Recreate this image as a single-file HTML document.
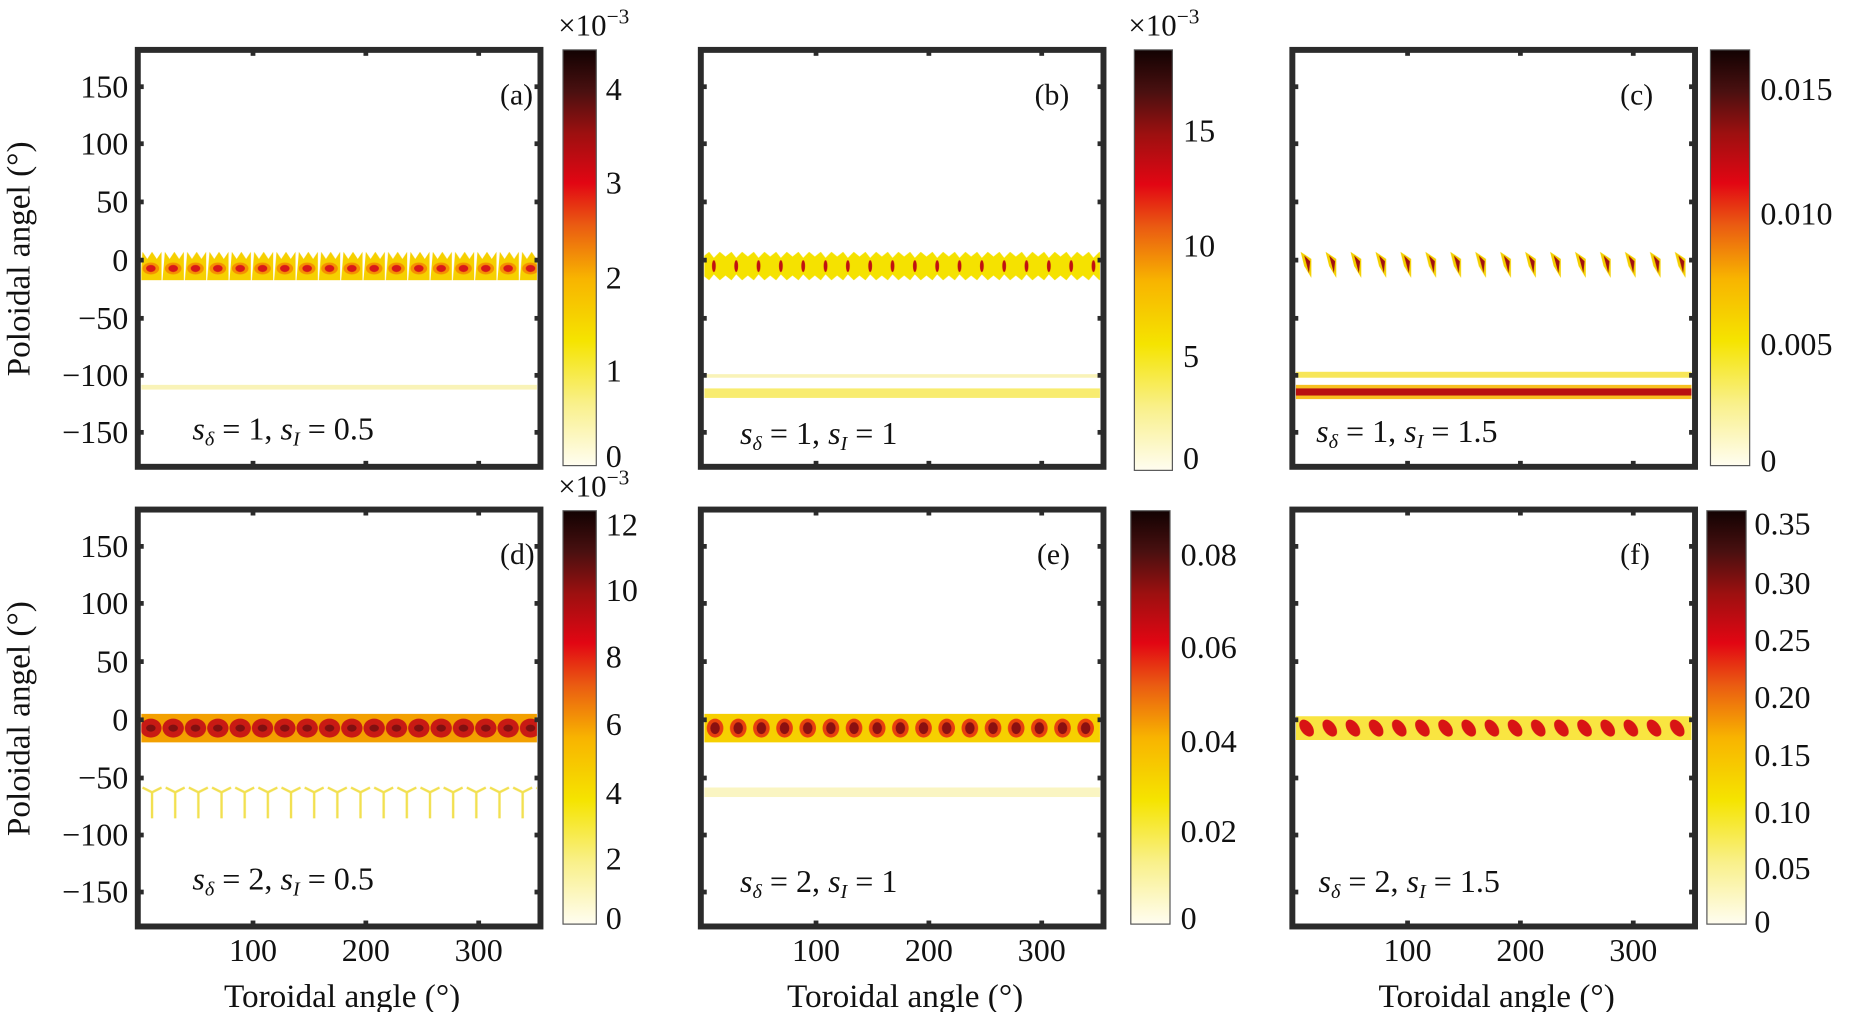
<!DOCTYPE html>
<html><head><meta charset="utf-8"><style>
html,body{margin:0;padding:0;background:#fff;}
svg{display:block;}
text{font-family:"Liberation Serif",serif;fill:#111;}
</style></head><body>
<svg width="1853" height="1012" viewBox="0 0 1560 852" preserveAspectRatio="none" xmlns="http://www.w3.org/2000/svg">
<defs>
<linearGradient id="hot" x1="0" y1="1" x2="0" y2="0">
<stop offset="0" stop-color="#fffdf0"/>
<stop offset="0.15" stop-color="#f9f08a"/>
<stop offset="0.3" stop-color="#f5e400"/>
<stop offset="0.45" stop-color="#f8b400"/>
<stop offset="0.58" stop-color="#ea5a12"/>
<stop offset="0.68" stop-color="#e20613"/>
<stop offset="0.8" stop-color="#9c1010"/>
<stop offset="0.9" stop-color="#4a1010"/>
<stop offset="1" stop-color="#120202"/>
</linearGradient>
<pattern id="pa" patternUnits="userSpaceOnUse" width="18.8" height="400" x="2" y="170">
<path d="M2 0 L6 6 L10 0 L14 6 L18 0 L18 24 L0 24 Z" fill="#f6d000"/>
<ellipse cx="9" cy="14" rx="7" ry="5" fill="#f59000"/>
<ellipse cx="9" cy="14" rx="4" ry="3" fill="#d81818"/>
</pattern>
<pattern id="pb" patternUnits="userSpaceOnUse" width="18.8" height="400" x="2" y="170">
<path d="M0 4 L5 0 L9 5 L14 0 L18.8 4 L18.8 20 L14 24 L9 19 L5 24 L0 20 Z" fill="#f5e200"/>
<ellipse cx="9" cy="12" rx="1.6" ry="5" fill="#c01010"/>
</pattern>
<pattern id="pc" patternUnits="userSpaceOnUse" width="21" height="400" x="4" y="168">
<path d="M3 2 L12 8 L12 24 L6 14 Z" fill="#f3d000"/>
<path d="M6 5 L11 10 L10 20 Z" fill="#a01010"/>
</pattern>
<pattern id="pd" patternUnits="userSpaceOnUse" width="18.8" height="400" x="2" y="170">
<ellipse cx="9" cy="14" rx="9" ry="8" fill="#c81a14"/>
<ellipse cx="9" cy="14" rx="4" ry="3" fill="#801010"/>
</pattern>
<pattern id="pe" patternUnits="userSpaceOnUse" width="19.5" height="400" x="2" y="170">
<ellipse cx="10" cy="14" rx="7" ry="8" fill="#e8400e"/>
<ellipse cx="10" cy="14" rx="4" ry="5" fill="#8a1010"/>
</pattern>
<pattern id="pf" patternUnits="userSpaceOnUse" width="19.5" height="400" x="2" y="170">
<ellipse cx="10" cy="14" rx="5" ry="8" fill="#d81414" transform="rotate(-35 10 14)"/>
</pattern>
<pattern id="pq" patternUnits="userSpaceOnUse" width="19.5" height="400" x="2" y="232">
<path d="M2 2 L10 6 L18 2 M10 6 L10 28" stroke="#f2e050" stroke-width="2" fill="none"/>
</pattern>
<g id="frame">
<rect x="0" y="0" width="339" height="351" fill="none" stroke="#2b2b2b" stroke-width="5"/>
<g stroke="#2b2b2b" stroke-width="4">
<line x1="97" y1="0" x2="97" y2="5"/><line x1="192" y1="0" x2="192" y2="5"/><line x1="287" y1="0" x2="287" y2="5"/>
<line x1="97" y1="351" x2="97" y2="346"/><line x1="192" y1="351" x2="192" y2="346"/><line x1="287" y1="351" x2="287" y2="346"/>
<line x1="0" y1="31" x2="5" y2="31"/><line x1="0" y1="79" x2="5" y2="79"/><line x1="0" y1="128" x2="5" y2="128"/><line x1="0" y1="177" x2="5" y2="177"/><line x1="0" y1="226" x2="5" y2="226"/><line x1="0" y1="274" x2="5" y2="274"/><line x1="0" y1="322" x2="5" y2="322"/>
<line x1="339" y1="31" x2="334" y2="31"/><line x1="339" y1="79" x2="334" y2="79"/><line x1="339" y1="128" x2="334" y2="128"/><line x1="339" y1="177" x2="334" y2="177"/><line x1="339" y1="226" x2="334" y2="226"/><line x1="339" y1="274" x2="334" y2="274"/><line x1="339" y1="322" x2="334" y2="322"/>
</g>
</g>
<g id="yt" font-size="27" text-anchor="end">
<text x="-8" y="40">150</text><text x="-8" y="88">100</text><text x="-8" y="137">50</text><text x="-8" y="186">0</text><text x="-8" y="235">−50</text><text x="-8" y="283">−100</text><text x="-8" y="331">−150</text>
</g>
<g id="xt" font-size="27" text-anchor="middle">
<text x="97" y="380">100</text><text x="192" y="380">200</text><text x="287" y="380">300</text>
<text x="172" y="419" font-size="28">Toroidal angle (°)</text>
</g>
</defs>

<!-- (a) -->
<g transform="translate(116,42)">
<rect x="3" y="170" width="333" height="24" fill="url(#pa)"/>
<rect x="3" y="282" width="333" height="4" fill="#f6ee9a" opacity="0.7"/>
<use href="#frame"/><use href="#yt"/>
<text x="305" y="46" font-size="25">(a)</text>
<text x="46" y="328" font-size="27" font-style="italic">s<tspan font-size="17" dy="5">δ</tspan><tspan dy="-5" font-style="normal"> = 1,  </tspan>s<tspan font-size="17" dy="5">I</tspan><tspan dy="-5" font-style="normal"> = 0.5</tspan></text>
</g>
<!-- (b) -->
<g transform="translate(590,42)">
<rect x="3" y="170" width="333" height="24" fill="url(#pb)"/>
<rect x="3" y="273" width="333" height="3" fill="#f6ee9a" opacity="0.7"/>
<rect x="3" y="285" width="333" height="8" fill="#f5e640" opacity="0.75"/>
<use href="#frame"/>
<text x="281" y="46" font-size="25">(b)</text>
<text x="33" y="332" font-size="27" font-style="italic">s<tspan font-size="17" dy="5">δ</tspan><tspan dy="-5" font-style="normal"> = 1,  </tspan>s<tspan font-size="17" dy="5">I</tspan><tspan dy="-5" font-style="normal"> = 1</tspan></text>
</g>
<!-- (c) -->
<g transform="translate(1088,42)">
<rect x="3" y="168" width="333" height="30" fill="url(#pc)"/>
<rect x="3" y="271" width="333" height="5" fill="#f5e030" opacity="0.8"/>
<rect x="3" y="282" width="333" height="12" fill="#f7c020"/>
<rect x="3" y="285" width="333" height="6" fill="#b81010"/>
<use href="#frame"/>
<text x="276" y="46" font-size="25">(c)</text>
<text x="20" y="330" font-size="27" font-style="italic">s<tspan font-size="17" dy="5">δ</tspan><tspan dy="-5" font-style="normal"> = 1,  </tspan>s<tspan font-size="17" dy="5">I</tspan><tspan dy="-5" font-style="normal"> = 1.5</tspan></text>
</g>
<!-- (d) -->
<g transform="translate(116,429)">
<rect x="3" y="172" width="333" height="24" fill="#f3a000"/>
<rect x="3" y="170" width="333" height="28" fill="url(#pd)"/>
<rect x="3" y="232" width="333" height="30" fill="url(#pq)"/>
<use href="#frame"/><use href="#yt"/><use href="#xt"/>
<text x="305" y="46" font-size="25">(d)</text>
<text x="46" y="320" font-size="27" font-style="italic">s<tspan font-size="17" dy="5">δ</tspan><tspan dy="-5" font-style="normal"> = 2,  </tspan>s<tspan font-size="17" dy="5">I</tspan><tspan dy="-5" font-style="normal"> = 0.5</tspan></text>
</g>
<!-- (e) -->
<g transform="translate(590,429)">
<rect x="3" y="172" width="333" height="24" fill="#f6d000"/>
<rect x="3" y="170" width="333" height="28" fill="url(#pe)"/>
<rect x="3" y="234" width="333" height="8" fill="#f6ee9a" opacity="0.6"/>
<use href="#frame"/><use href="#xt"/>
<text x="283" y="46" font-size="25">(e)</text>
<text x="33" y="322" font-size="27" font-style="italic">s<tspan font-size="17" dy="5">δ</tspan><tspan dy="-5" font-style="normal"> = 2,  </tspan>s<tspan font-size="17" dy="5">I</tspan><tspan dy="-5" font-style="normal"> = 1</tspan></text>
</g>
<!-- (f) -->
<g transform="translate(1088,429)">
<rect x="3" y="174" width="333" height="20" fill="#f8e020" opacity="0.85"/>
<rect x="3" y="170" width="333" height="28" fill="url(#pf)"/>
<use href="#frame"/><use href="#xt"/>
<text x="276" y="46" font-size="25">(f)</text>
<text x="22" y="322" font-size="27" font-style="italic">s<tspan font-size="17" dy="5">δ</tspan><tspan dy="-5" font-style="normal"> = 2,  </tspan>s<tspan font-size="17" dy="5">I</tspan><tspan dy="-5" font-style="normal"> = 1.5</tspan></text>
</g>

<!-- y labels -->
<text font-size="28" text-anchor="middle" transform="translate(25,218) rotate(-90)">Poloidal angel (°)</text>
<text font-size="28" text-anchor="middle" transform="translate(25,605) rotate(-90)">Poloidal angel (°)</text>

<!-- colorbars -->
<g stroke="#555" stroke-width="1">
<rect x="474" y="42" width="28" height="350" fill="url(#hot)"/>
<rect x="955" y="42" width="32" height="354" fill="url(#hot)"/>
<rect x="1440" y="42" width="33" height="350" fill="url(#hot)"/>
<rect x="474" y="430" width="28" height="348" fill="url(#hot)"/>
<rect x="952" y="430" width="33" height="348" fill="url(#hot)"/>
<rect x="1437" y="430" width="33" height="348" fill="url(#hot)"/>
</g>
<g font-size="27">
<text x="510" y="84">4</text><text x="510" y="163">3</text><text x="510" y="243">2</text><text x="510" y="321">1</text><text x="510" y="393">0</text>
<text x="470" y="30" font-size="26">×10<tspan font-size="18" dy="-10">−3</tspan></text>
<text x="996" y="119">15</text><text x="996" y="216">10</text><text x="996" y="309">5</text><text x="996" y="395">0</text>
<text x="950" y="30" font-size="26">×10<tspan font-size="18" dy="-10">−3</tspan></text>
<text x="1482" y="84">0.015</text><text x="1482" y="189">0.010</text><text x="1482" y="299">0.005</text><text x="1482" y="397">0</text>
<text x="510" y="451">12</text><text x="510" y="506">10</text><text x="510" y="562">8</text><text x="510" y="619">6</text><text x="510" y="677">4</text><text x="510" y="732">2</text><text x="510" y="782">0</text>
<text x="470" y="418" font-size="26">×10<tspan font-size="18" dy="-10">−3</tspan></text>
<text x="994" y="476">0.08</text><text x="994" y="554">0.06</text><text x="994" y="633">0.04</text><text x="994" y="709">0.02</text><text x="994" y="782">0</text>
<text x="1477" y="450">0.35</text><text x="1477" y="500">0.30</text><text x="1477" y="548">0.25</text><text x="1477" y="596">0.20</text><text x="1477" y="645">0.15</text><text x="1477" y="693">0.10</text><text x="1477" y="740">0.05</text><text x="1477" y="785">0</text>
</g>
</svg>
</body></html>
